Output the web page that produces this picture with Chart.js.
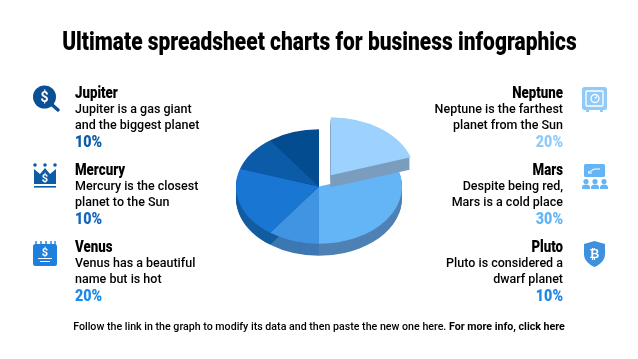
<!DOCTYPE html>
<html>
<head>
<meta charset="utf-8">
<title>Ultimate spreadsheet charts for business infographics</title>
<script src="https://cdn.jsdelivr.net/npm/chart.js@4/dist/chart.umd.min.js"></script>
<style>
    html, body { margin: 0; padding: 0; background: #fff; }
    #page { position: relative; width: 638px; height: 359px; overflow: hidden; font-family: Roboto, sans-serif; color: #000; }
    #pie { position: absolute; left: 0; top: 0; }
    #title { position: absolute; left: 0; width: 638px; top: 24px; text-align: center; font-size: 26px; line-height: 34px; font-weight: 900; white-space: nowrap; transform: scaleX(.805); }
    #footer { position: absolute; left: 0; width: 638px; top: 319px; text-align: center; font-size: 10.65px; line-height: 15px; font-weight: 500; white-space: nowrap; }
    #footer b { font-weight: 700; }
    .entry { position: absolute; width: 200px; white-space: nowrap; }
    .left { left: 75px; text-align: left; }
    .right { left: 363px; text-align: right; }
    .name, .share { font-size: 17px; line-height: 18px; height: 18px; font-weight: 900; transform: scaleX(.78); }
    .share { transform: scaleX(.84); }
    .left .name, .left .share { transform-origin: left center; }
    .right .name, .right .share { transform-origin: right center; }
    .line { font-size: 12.5px; line-height: 15.5px; font-weight: 500; }
    .icon { position: absolute; width: 28px; height: 28px; }
    #e-Jupiter { top: 83px; }
    #e-Mercury { top: 160px; }
    #e-Venus { top: 237px; }
    #e-Neptune { top: 83px; }
    #e-Mars { top: 160px; }
    #e-Pluto { top: 237px; }
</style>
</head>
<body>
<div id="page">
    <canvas id="pie" width="638" height="359"></canvas>
    <div id="title">Ultimate spreadsheet charts for business infographics</div>
    <div id="entries"></div>
    <svg class="icon" style="left:32px;top:85px" viewBox="0 0 28 28">
        <path d="M18 18l8 7" stroke="#0b4f94" stroke-width="3.4" stroke-linecap="round"/>
        <circle cx="12.5" cy="12" r="11.5" fill="#0b4f94"/>
        <text x="12.5" y="17" font-size="14" font-weight="700" fill="#fff" text-anchor="middle">$</text>
    </svg>
    <svg class="icon" style="left:32px;top:162px" viewBox="0 0 28 28">
        <circle cx="3" cy="3" r="1.8" fill="#0d5ca8"/><circle cx="13" cy="3" r="1.8" fill="#0d5ca8"/><circle cx="23" cy="3" r="1.8" fill="#0d5ca8"/>
        <path d="M2 7l6 5 5-6 5 6 6-5v15H2z" fill="#0d5ca8"/>
        <rect x="2" y="24" width="22" height="1.6" fill="#0d5ca8"/>
        <text x="13" y="20" font-size="11" font-weight="700" fill="#fff" text-anchor="middle">$</text>
    </svg>
    <svg class="icon" style="left:32px;top:240px" viewBox="0 0 28 28">
        <rect x="1" y="4" width="24" height="22" rx="2.5" fill="#1e7fdc"/>
        <path d="M4 1v5M9 1v5M14 1v5M19 1v5M23 1v5" stroke="#1e7fdc" stroke-width="1.4"/>
        <text x="13" y="16" font-size="11" font-weight="700" fill="#fff" text-anchor="middle">$</text>
        <path d="M6 18.5h14M8 21.5h10" stroke="#fff" stroke-width="1.1"/>
    </svg>
    <svg class="icon" style="left:581px;top:85px" viewBox="0 0 28 28">
        <rect x="1" y="2" width="25" height="23" rx="2.5" fill="#90caf9"/>
        <rect x="5" y="6" width="17" height="15" rx="1" fill="none" stroke="#fff" stroke-width="1.3"/>
        <circle cx="14" cy="13.5" r="4" fill="none" stroke="#fff" stroke-width="1.3"/>
        <path d="M14 13.5l2-2" stroke="#fff" stroke-width="1.2"/>
        <path d="M5 25v2h3v-2M19 25v2h3v-2" fill="#90caf9"/>
    </svg>
    <svg class="icon" style="left:581px;top:163px" viewBox="0 0 28 28">
        <rect x="3" y="1" width="21" height="13" rx="1.5" fill="#64b5f6"/>
        <path d="M7 9c4 0 4-3 7-3h5M7 10h4" stroke="#fff" stroke-width="1.2" fill="none"/>
        <circle cx="5" cy="18.5" r="2.6" fill="#64b5f6"/><circle cx="14" cy="18.5" r="2.6" fill="#64b5f6"/><circle cx="23" cy="18.5" r="2.6" fill="#64b5f6"/>
        <path d="M1 26v-1.5a4 3 0 0 1 8 0V26zM10 26v-1.5a4 3 0 0 1 8 0V26zM19 26v-1.5a4 3 0 0 1 8 0V26z" fill="#64b5f6"/>
    </svg>
    <svg class="icon" style="left:581px;top:240px" viewBox="0 0 28 28">
        <path d="M13.500 1l10.500 3v10c0 6-4.500 10.500-10.500 13C7.500 24.500 3 20 3 14V4z" fill="#3f91dc"/>
        <text x="13.500" y="18" font-size="12" font-weight="700" fill="#fff" text-anchor="middle">₿</text>
    </svg>
    <div id="footer">Follow the link in the graph to modify its data and then paste the new one here. <b>For more info, click here</b></div>
</div>
<script>
    // clockwise from 72deg, Neptune last so that it is painted over Mars
    const categories = ['Mars', 'Pluto', 'Venus', 'Mercury', 'Jupiter', 'Neptune'];
    const shares = [30, 10, 20, 10, 10, 20];
    const firstLines = ['Despite being red,', 'Pluto is considered a', 'Venus has a beautiful', 'Mercury is the closest', 'Jupiter is a gas giant', 'Neptune is the farthest'];
    const secondLines = ['Mars is a cold place', 'dwarf planet', 'name but is hot', 'planet to the Sun', 'and the biggest planet', 'planet from the Sun'];

    const sliceColors = ['#64b5f6', '#4194e2', '#1976d2', '#0c5ba9', '#044c90', '#9dd2fe'];
    const wallColors = ['#4f81b4', '#3d78b2', '#125c9f', '#0a4a87', '#033d73', '#7b9dbe'];
    const shareColors = ['#64b5f6', '#1e88e5', '#1e88e5', '#1565c0', '#0d5ca8', '#90caf9'];
    const leftSide = ['Jupiter', 'Mercury', 'Venus'];

    const squash = 0.69;
    const depth = 12;

    function squashAround(ctx, arc) {
        ctx.translate(arc.x, arc.y);
        ctx.scale(1, squash);
        ctx.translate(-arc.x, -arc.y);
    }

    // side of one slice: the same sector swept straight down
    function drawWall(ctx, arc, color, offset) {
        let mid = (arc.startAngle + arc.endAngle) / 2;
        let ox = Math.cos(mid) * offset;
        let oy = Math.sin(mid) * offset;
        ctx.fillStyle = color;
        for (let d = depth; d > 0; d--) {
            ctx.save();
            ctx.translate(0, d);
            squashAround(ctx, arc);
            ctx.beginPath();
            ctx.moveTo(arc.x + ox, arc.y + oy);
            ctx.arc(arc.x + ox, arc.y + oy, arc.outerRadius, arc.startAngle, arc.endAngle);
            ctx.closePath();
            ctx.fill();
            ctx.restore();
        }
    }

    const tiltPlugin = {
        id: 'tilt',
        beforeDatasetsDraw(chart) {
            let ctx = chart.ctx;
            let arcs = chart.getDatasetMeta(0).data;
            arcs.forEach(function (arc, i) {
                if (!arc.options.offset) {
                    drawWall(ctx, arc, wallColors[i], 0);
                }
            });
            ctx.save();
            squashAround(ctx, arcs[0]);
        },
        afterDatasetsDraw(chart) {
            let ctx = chart.ctx;
            ctx.restore();
            // the pulled out slice stands on top of the others
            chart.getDatasetMeta(0).data.forEach(function (arc, i) {
                if (arc.options.offset) {
                    drawWall(ctx, arc, wallColors[i], arc.options.offset / 4);
                    ctx.save();
                    squashAround(ctx, arc);
                    arc.draw(ctx);
                    ctx.restore();
                }
            });
        }
    };

    function showEntries() {
        let html = '';
        categories.forEach(function (name, i) {
            let side = leftSide.indexOf(name) >= 0 ? 'left' : 'right';
            html += '<div class="entry ' + side + '" id="e-' + name + '">' +
                '<div class="name">' + name + '</div>' +
                '<div class="line">' + firstLines[i] + '</div>' +
                '<div class="line">' + secondLines[i] + '</div>' +
                '<div class="share" style="color:' + shareColors[i] + '">' + shares[i] + '%</div>' +
                '</div>';
        });
        document.getElementById('entries').innerHTML = html;
    }

    function pieChart() {
        new Chart(document.getElementById('pie').getContext('2d'), {
            type: 'pie',
            data: {
                labels: categories,
                datasets: [{
                    data: shares,
                    backgroundColor: sliceColors,
                    borderWidth: 0,
                    offset: [0, 0, 0, 0, 0, 80],
                    clip: false
                }]
            },
            options: {
                responsive: false,
                animation: false,
                rotation: 72,
                radius: 83,
                layout: { padding: { top: 14 } },
                plugins: { legend: { display: false }, tooltip: { enabled: false } }
            },
            plugins: [tiltPlugin]
        });
    }

    showEntries();
    pieChart();
</script>
</body>
</html>
